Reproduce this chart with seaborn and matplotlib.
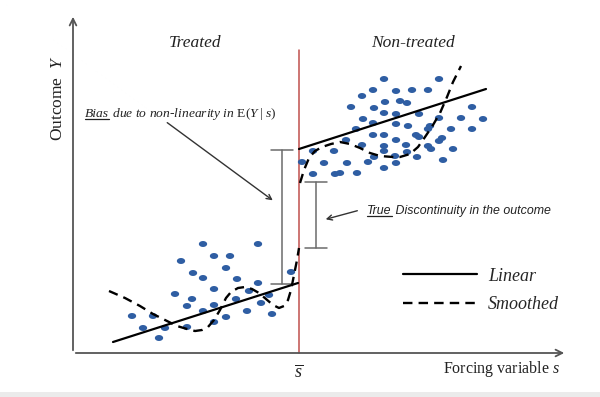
import numpy as np
import pandas as pd
import matplotlib
matplotlib.use('Agg')
import matplotlib.pyplot as plt
from matplotlib.patches import Rectangle
import seaborn as sns

# Valeurs (s = variable de forçage, Y = résultat)
s_bar = 226

treated_s = [130, 185, 141, 157, 108, 153, 120, 130, 164, 218, 185, 141, 176, 102, 196, 119,
             163, 114, 141, 188, 130, 174, 59, 80, 153, 199, 141, 70, 92, 114, 86]
treated_y = [109, 109, 97, 97, 92, 85, 80, 75, 74, 81, 70, 64, 62, 59, 58, 54,
             54, 47, 48, 50, 42, 42, 37, 37, 36, 39, 31, 25, 25, 26, 15]

control_s = [311, 366, 300, 323, 339, 355, 289, 312, 327, 334, 278, 301, 399, 311, 323, 346,
             290, 300, 366, 388, 410, 283, 323, 335, 355, 357, 378, 399, 300, 311, 343, 346,
             273, 323, 369, 366, 289, 311, 333, 355, 358, 380, 240, 261, 311, 334, 301, 322,
             344, 229, 251, 274, 295, 323, 370, 311, 240, 262, 267, 284]
control_y = [274, 274, 263, 262, 263, 263, 257, 251, 252, 250, 246, 245, 246, 240, 239, 239,
             234, 230, 235, 235, 234, 224, 229, 227, 224, 227, 224, 224, 218, 218, 218, 216,
             213, 213, 215, 212, 208, 207, 208, 207, 204, 204, 202, 202, 202, 201, 196, 197,
             196, 191, 190, 190, 191, 190, 193, 185, 179, 179, 180, 180]

linear_treated_s = [40, 225]
linear_treated_y = [11, 70]
linear_control_s = [226, 413]
linear_control_y = [204, 264]

smooth_treated_s = [36, 52, 67, 80, 92, 104, 114, 122, 129, 135, 141, 147, 153, 158, 165, 172,
                    179, 186, 193, 200, 206, 211, 215, 218, 221, 224, 226]
smooth_treated_y = [62, 55, 47, 39, 33, 27, 24, 22, 23, 26, 33, 43, 55, 61, 65, 66,
                    64, 60, 54, 48, 45, 47, 53, 63, 78, 93, 105]
smooth_control_s = [227, 231, 236, 242, 249, 258, 267, 277, 287, 297, 307, 320, 327, 337, 345,
                    352, 360, 367, 374, 380, 385, 388]
smooth_control_y = [170, 183, 195, 202, 206, 209, 211, 209, 205, 200, 197, 196, 196, 199, 206,
                    216, 228, 240, 256, 271, 281, 287]

bias_bar = [69, 203]
true_bar = [105, 171]

sns.set_style('white')
plt.rcParams['font.family'] = ['Liberation Serif', 'DejaVu Serif']
plt.rcParams['mathtext.fontset'] = 'custom'
plt.rcParams['mathtext.rm'] = 'Liberation Serif'
plt.rcParams['mathtext.it'] = 'Liberation Serif:italic'

fig = plt.figure(figsize=(6, 3.97), dpi=100)
ax = fig.add_axes([0, 0, 1, 1])
ax.set_xlim(-73, 527)
ax.set_ylim(-44, 353)
ax.axis('off')
renderer = fig.canvas.get_renderer()

# bande grise en bas
fig.add_artist(Rectangle((0, 0), 1, 5 / 397, transform=fig.transFigure,
                         facecolor='#ebebeb', edgecolor='none'))

# axes avec flèches
axis_col = '#555555'
ax.annotate('', xy=(0, 339), xytext=(0, 0),
            arrowprops=dict(arrowstyle='->', color=axis_col, lw=1.3, mutation_scale=12))
ax.annotate('', xy=(494, 0), xytext=(0, 0),
            arrowprops=dict(arrowstyle='->', color=axis_col, lw=1.3, mutation_scale=12))

# seuil
ax.plot([s_bar, s_bar], [0, 303], color='#c0504d', lw=1.1)

# nuages de points
ell = [(np.cos(t), 0.72 * np.sin(t)) for t in np.linspace(0, 2 * np.pi, 25)]
pts = pd.DataFrame({'s': treated_s + control_s, 'y': treated_y + control_y})
sns.scatterplot(data=pts, x='s', y='y', ax=ax, color='#2f5ea3', marker=ell,
                s=36, edgecolor='none', legend=False, zorder=3)

# droites et lissage
kw = dict(color='black', sort=False, estimator=None, ax=ax, zorder=4)
sns.lineplot(x=linear_treated_s, y=linear_treated_y, lw=1.6, label='Linear', **kw)
sns.lineplot(x=linear_control_s, y=linear_control_y, lw=1.6, **kw)
sns.lineplot(x=smooth_treated_s, y=smooth_treated_y, lw=1.7, dashes=False,
             linestyle=(0, (4, 2.6)), label='Smoothed', **kw)
sns.lineplot(x=smooth_control_s, y=smooth_control_y, lw=1.7, dashes=False,
             linestyle=(0, (4, 2.6)), **kw)

# barres (biais et vraie discontinuité)
bar_col = '#6b6b6b'
for x0, (lo, hi) in [(209, bias_bar), (243, true_bar)]:
    ax.plot([x0, x0], [lo, hi], color=bar_col, lw=1.1)
    for yy in (lo, hi):
        ax.plot([x0 - 11, x0 + 11], [yy, yy], color=bar_col, lw=1.1)

ax.annotate('', xy=(202, 151), xytext=(92, 232),
            arrowprops=dict(arrowstyle='->', color='#333333', lw=1.0, mutation_scale=9))
ax.annotate('', xy=(250, 133), xytext=(287, 143),
            arrowprops=dict(arrowstyle='->', color='#333333', lw=1.0, mutation_scale=9))


def underlined(x, y, word, rest, **tkw):
    """Écrire un mot souligné suivi du reste du texte."""
    t = ax.text(x, y, word, ha='left', va='baseline', **tkw)
    bb = t.get_window_extent(renderer).transformed(ax.transData.inverted())
    ax.plot([bb.x0, bb.x1], [y - 2, y - 2], color=tkw.get('color', 'k'), lw=0.9)
    ax.text(bb.x1, y, ' ' + rest, ha='left', va='baseline', **tkw)


underlined(12, 236, 'Bias', r'due to non-linearity in $\mathrm{E}(Y\;|\;s)$',
           fontsize=9.7, style='italic', color='#222222')
underlined(294, 139, 'True', 'Discontinuity in the outcome',
           fontsize=8.9, style='italic', family=['Liberation Sans'], color='#222222')

ax.text(122, 310, 'Treated', fontsize=12.5, style='italic', ha='center', va='center',
        color='#222222')
ax.text(340, 310, 'Non-treated', fontsize=12.5, style='italic', ha='center', va='center',
        color='#222222')

ax.text(-15, 255, r'Outcome  $Y$', fontsize=12.5, rotation=90, ha='center', va='center',
        color='#222222')
ax.text(370, -16, r'Forcing variable $s$', fontsize=11.5, ha='left', va='center',
        color='#222222')
ax.text(s_bar, -20, r'$\overline{s}$', fontsize=13, ha='center', va='center', color='#222222')

ax.legend(loc='center left', bbox_to_anchor=(0.645, 0.268), frameon=False,
          prop={'family': 'Liberation Serif', 'style': 'italic', 'size': 13},
          handlelength=4.1, handletextpad=0.6, labelspacing=0.65)

fig.savefig('out.png', dpi=100)
